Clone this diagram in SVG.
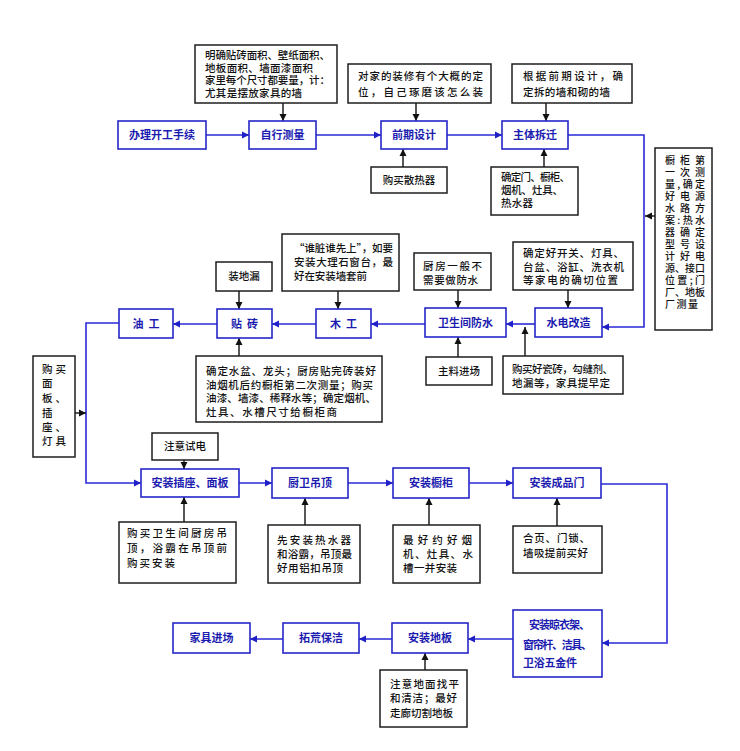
<svg xmlns="http://www.w3.org/2000/svg" width="740" height="751" viewBox="0 0 740 751">
  <style>
    .box { fill: #ffffff; stroke: #2626c8; stroke-width: 1.6; }
    .note { fill: #ffffff; stroke: #1e1e1e; stroke-width: 1.5; }
    .lbl { font-family: "Noto Sans CJK SC", "Noto Sans", sans-serif; font-size: 11px; font-weight: bold; fill: #1c1cb0; text-anchor: middle; }
    .txt { font-family: "Noto Sans CJK SC", "Noto Sans", sans-serif; font-size: 10.5px; font-weight: 500; fill: #111111; }
    .sm { font-size: 10px; }
    .mid { text-anchor: middle; }
    .flow { fill: none; stroke: #2a2ad6; stroke-width: 1.6; }
    .feed { fill: none; stroke: #111111; stroke-width: 1.4; }
  </style>
  <defs>
    <marker id="ab" markerWidth="8" markerHeight="8" refX="7" refY="4" orient="auto" markerUnits="userSpaceOnUse">
      <path d="M0,0.5 L7,4 L0,7.5 Z" fill="#2020c8"/>
    </marker>
    <marker id="ak" markerWidth="8" markerHeight="8" refX="7" refY="4" orient="auto" markerUnits="userSpaceOnUse">
      <path d="M0,0.5 L7,4 L0,7.5 Z" fill="#111111"/>
    </marker>
  </defs>
  <rect width="740" height="751" fill="#ffffff"/>

  <!-- connectors -->
  <g id="connectors">
    <!-- main flow, row 1 -->
    <path class="flow" d="M206,135 H249" marker-end="url(#ab)"/>
    <path class="flow" d="M316,135 H381" marker-end="url(#ab)"/>
    <path class="flow" d="M447,135 H502" marker-end="url(#ab)"/>
    <path class="flow" d="M568,135 H644 V327 H602" marker-end="url(#ab)"/>
    <!-- row 2 -->
    <path class="flow" d="M535,324 H506" marker-end="url(#ab)"/>
    <path class="flow" d="M425,324 H371" marker-end="url(#ab)"/>
    <path class="flow" d="M316,324 H272" marker-end="url(#ab)"/>
    <path class="flow" d="M217,324 H173" marker-end="url(#ab)"/>
    <path class="flow" d="M119,323 H86 V483 H141" marker-end="url(#ab)"/>
    <!-- row 3 -->
    <path class="flow" d="M239,483 H272" marker-end="url(#ab)"/>
    <path class="flow" d="M348,483 H393" marker-end="url(#ab)"/>
    <path class="flow" d="M469,483 H513" marker-end="url(#ab)"/>
    <path class="flow" d="M601,484 H667 V643 H602" marker-end="url(#ab)"/>
    <!-- row 4 -->
    <path class="flow" d="M513,639 H468" marker-end="url(#ab)"/>
    <path class="flow" d="M392,639 H359" marker-end="url(#ab)"/>
    <path class="flow" d="M283,639 H250" marker-end="url(#ab)"/>

    <!-- side notes feeding steps -->
    <path class="feed" d="M283,103 V121" marker-end="url(#ak)"/>
    <path class="feed" d="M416,103 V121" marker-end="url(#ak)"/>
    <path class="feed" d="M546,103 V121" marker-end="url(#ak)"/>
    <path class="feed" d="M403,167 V149" marker-end="url(#ak)"/>
    <path class="feed" d="M544,167 V149" marker-end="url(#ak)"/>
    <path class="feed" d="M655,216 H645" marker-end="url(#ak)"/>
    <path class="feed" d="M239,291 V309" marker-end="url(#ak)"/>
    <path class="feed" d="M239,356 V338" marker-end="url(#ak)"/>
    <path class="feed" d="M338,291 V309" marker-end="url(#ak)"/>
    <path class="feed" d="M458,290 V308" marker-end="url(#ak)"/>
    <path class="feed" d="M458,357 V337" marker-end="url(#ak)"/>
    <path class="feed" d="M568,290 V308" marker-end="url(#ak)"/>
    <path class="feed" d="M525,356 V327" marker-end="url(#ak)"/>
    <path class="feed" d="M75,413 H86" marker-end="url(#ak)"/>
    <path class="feed" d="M184,460 V469" marker-end="url(#ak)"/>
    <path class="feed" d="M184,522 V497" marker-end="url(#ak)"/>
    <path class="feed" d="M305,525 V498" marker-end="url(#ak)"/>
    <path class="feed" d="M429,525 V498" marker-end="url(#ak)"/>
    <path class="feed" d="M557,526 V498" marker-end="url(#ak)"/>
    <path class="feed" d="M425,670 V653" marker-end="url(#ak)"/>
  </g>

  <!-- row 1 steps -->
  <g id="n-permit">
    <rect class="box" x="118" y="121" width="88" height="28"/>
    <text class="lbl" x="162" y="139" textLength="66" lengthAdjust="spacing">办理开工手续</text>
  </g>
  <g id="n-measure">
    <rect class="box" x="249" y="121" width="67" height="28"/>
    <text class="lbl" x="282.5" y="139">自行测量</text>
  </g>
  <g id="n-design">
    <rect class="box" x="381" y="121" width="66" height="28"/>
    <text class="lbl" x="414" y="139">前期设计</text>
  </g>
  <g id="n-demolish">
    <rect class="box" x="502" y="121" width="66" height="28"/>
    <text class="lbl" x="535" y="139">主体拆迁</text>
  </g>

  <!-- row 1 notes -->
  <g id="t-measure">
    <rect class="note" x="195" y="45" width="142" height="58"/>
    <text class="txt" x="205" y="59" textLength="125" lengthAdjust="spacing">明确贴砖面积、壁纸面积、</text>
    <text class="txt" x="205" y="72" textLength="108" lengthAdjust="spacing">地板面积、墙面漆面积</text>
    <text class="txt" x="205" y="84" textLength="125" lengthAdjust="spacing">家里每个尺寸都要量，计：</text>
    <text class="txt" x="205" y="97" textLength="97" lengthAdjust="spacing">尤其是摆放家具的墙</text>
  </g>
  <g id="t-design">
    <rect class="note" x="348" y="64" width="143" height="39"/>
    <text class="txt" x="358" y="80" textLength="125" lengthAdjust="spacing">对家的装修有个大概的定</text>
    <text class="txt" x="358" y="96" textLength="125" lengthAdjust="spacing">位，自己琢磨该怎么装</text>
  </g>
  <g id="t-radiator">
    <rect class="note" x="371" y="167" width="76" height="26"/>
    <text class="txt mid" x="409" y="184">购买散热器</text>
  </g>
  <g id="t-demolish">
    <rect class="note" x="512" y="64" width="120" height="39"/>
    <text class="txt" x="523" y="80" textLength="100" lengthAdjust="spacing">根据前期设计，确</text>
    <text class="txt" x="523" y="96" textLength="87" lengthAdjust="spacing">定拆的墙和砌的墙</text>
  </g>
  <g id="t-doors">
    <rect class="note" x="491" y="167" width="87" height="48"/>
    <text class="txt" x="501" y="181" textLength="69" lengthAdjust="spacing">确定门、橱柜、</text>
    <text class="txt" x="501" y="194" textLength="62" lengthAdjust="spacing">烟机、灶具、</text>
    <text class="txt" x="501" y="207" textLength="32" lengthAdjust="spacing">热水器</text>
  </g>
  <g id="t-cabinet-measure">
    <rect class="note" x="655" y="148" width="57" height="182"/>
    <text class="txt sm" x="665" y="164" textLength="40" lengthAdjust="spacing">橱柜第</text>
    <text class="txt sm" x="665" y="176" textLength="40" lengthAdjust="spacing">一次测</text>
    <text class="txt sm" x="665" y="188" textLength="40" lengthAdjust="spacing">量,确定</text>
    <text class="txt sm" x="665" y="200" textLength="40" lengthAdjust="spacing">好电源</text>
    <text class="txt sm" x="665" y="212" textLength="40" lengthAdjust="spacing">水路方</text>
    <text class="txt sm" x="665" y="224" textLength="40" lengthAdjust="spacing">案:热水</text>
    <text class="txt sm" x="665" y="236" textLength="40" lengthAdjust="spacing">器确定</text>
    <text class="txt sm" x="665" y="248" textLength="40" lengthAdjust="spacing">型号设</text>
    <text class="txt sm" x="665" y="260" textLength="40" lengthAdjust="spacing">计好电</text>
    <text class="txt sm" x="665" y="272" textLength="40" lengthAdjust="spacing">源、接口</text>
    <text class="txt sm" x="665" y="284" textLength="40" lengthAdjust="spacing">位置;门</text>
    <text class="txt sm" x="665" y="296" textLength="40" lengthAdjust="spacing">厂、地板</text>
    <text class="txt sm" x="665" y="308" textLength="33" lengthAdjust="spacing">厂测量</text>
  </g>

  <!-- row 2 steps -->
  <g id="n-utilities">
    <rect class="box" x="535" y="308" width="67" height="29"/>
    <text class="lbl" x="568.5" y="327">水电改造</text>
  </g>
  <g id="n-waterproof">
    <rect class="box" x="425" y="308" width="81" height="29"/>
    <text class="lbl" x="465.5" y="327">卫生间防水</text>
  </g>
  <g id="n-carpentry">
    <rect class="box" x="316" y="309" width="55" height="29"/>
    <text class="lbl" x="343.5" y="328" xml:space="preserve">木  工</text>
  </g>
  <g id="n-tiling">
    <rect class="box" x="217" y="309" width="55" height="29"/>
    <text class="lbl" x="244.5" y="328" xml:space="preserve">贴  砖</text>
  </g>
  <g id="n-painting">
    <rect class="box" x="119" y="309" width="54" height="29"/>
    <text class="lbl" x="146" y="328" xml:space="preserve">油  工</text>
  </g>

  <!-- row 2 notes -->
  <g id="t-floor-drain">
    <rect class="note" x="216" y="262" width="56" height="29"/>
    <text class="txt mid" x="244" y="280">装地漏</text>
  </g>
  <g id="t-carpentry">
    <rect class="note" x="282" y="234" width="117" height="57"/>
    <text class="txt" x="294" y="252" textLength="99" lengthAdjust="spacing">“谁脏谁先上”，如要</text>
    <text class="txt" x="294" y="266" textLength="99" lengthAdjust="spacing">安装大理石窗台，最</text>
    <text class="txt" x="294" y="280" textLength="73" lengthAdjust="spacing">好在安装墙套前</text>
  </g>
  <g id="t-kitchen">
    <rect class="note" x="414" y="253" width="77" height="37"/>
    <text class="txt" x="423" y="270" textLength="59" lengthAdjust="spacing">厨房一般不</text>
    <text class="txt" x="423" y="284" textLength="55" lengthAdjust="spacing">需要做防水</text>
  </g>
  <g id="t-fixtures">
    <rect class="note" x="513" y="242" width="120" height="48"/>
    <text class="txt" x="523" y="257" textLength="101" lengthAdjust="spacing">确定好开关、灯具、</text>
    <text class="txt" x="523" y="271" textLength="101" lengthAdjust="spacing">台盆、浴缸、洗衣机</text>
    <text class="txt" x="523" y="284" textLength="95" lengthAdjust="spacing">等家电的确切位置</text>
  </g>
  <g id="t-materials">
    <rect class="note" x="426" y="357" width="66" height="28"/>
    <text class="txt mid" x="459" y="375">主料进场</text>
  </g>
  <g id="t-tiles">
    <rect class="note" x="503" y="356" width="120" height="38"/>
    <text class="txt" x="512" y="373" textLength="101" lengthAdjust="spacing">购买好瓷砖，勾缝剂、</text>
    <text class="txt" x="512" y="387" textLength="98" lengthAdjust="spacing">地漏等，家具提早定</text>
  </g>
  <g id="t-tiling">
    <rect class="note" x="196" y="356" width="186" height="66"/>
    <text class="txt" x="206" y="375" textLength="170" lengthAdjust="spacing">确定水盆、龙头；厨房贴完砖装好</text>
    <text class="txt" x="206" y="389" textLength="167" lengthAdjust="spacing">油烟机后约橱柜第二次测量；购买</text>
    <text class="txt" x="206" y="402" textLength="170" lengthAdjust="spacing">油漆、墙漆、稀释水等；确定烟机、</text>
    <text class="txt" x="206" y="416" textLength="131" lengthAdjust="spacing">灶具、水槽尺寸给橱柜商</text>
  </g>
  <g id="t-panels">
    <rect class="note" x="33" y="356" width="42" height="101"/>
    <text class="txt" x="42" y="373" textLength="24" lengthAdjust="spacing">购买</text>
    <text class="txt" x="42" y="387">面</text>
    <text class="txt" x="42" y="402" textLength="24" lengthAdjust="spacing">板、</text>
    <text class="txt" x="42" y="417">插</text>
    <text class="txt" x="42" y="431" textLength="24" lengthAdjust="spacing">座、</text>
    <text class="txt" x="42" y="445" textLength="24" lengthAdjust="spacing">灯具</text>
  </g>

  <!-- row 3 steps -->
  <g id="n-sockets">
    <rect class="box" x="141" y="469" width="98" height="28"/>
    <text class="lbl" x="190" y="487">安装插座、面板</text>
  </g>
  <g id="n-ceiling">
    <rect class="box" x="272" y="468" width="76" height="30"/>
    <text class="lbl" x="310" y="487">厨卫吊顶</text>
  </g>
  <g id="n-cabinets">
    <rect class="box" x="393" y="468" width="76" height="30"/>
    <text class="lbl" x="431" y="487">安装橱柜</text>
  </g>
  <g id="n-doors">
    <rect class="box" x="513" y="468" width="88" height="30"/>
    <text class="lbl" x="557" y="487">安装成品门</text>
  </g>

  <!-- row 3 notes -->
  <g id="t-power-test">
    <rect class="note" x="152" y="433" width="66" height="27"/>
    <text class="txt mid" x="185" y="450">注意试电</text>
  </g>
  <g id="t-ceiling-buy">
    <rect class="note" x="119" y="522" width="117" height="61"/>
    <text class="txt" x="127" y="537" textLength="100" lengthAdjust="spacing">购买卫生间厨房吊</text>
    <text class="txt" x="127" y="552" textLength="100" lengthAdjust="spacing">顶，浴霸在吊顶前</text>
    <text class="txt" x="127" y="567" textLength="48" lengthAdjust="spacing">购买安装</text>
  </g>
  <g id="t-heater">
    <rect class="note" x="268" y="525" width="92" height="58"/>
    <text class="txt" x="277" y="544" textLength="74" lengthAdjust="spacing">先安装热水器</text>
    <text class="txt" x="277" y="558" textLength="75" lengthAdjust="spacing">和浴霸，吊顶最</text>
    <text class="txt" x="277" y="572" textLength="66" lengthAdjust="spacing">好用铝扣吊顶</text>
  </g>
  <g id="t-hood">
    <rect class="note" x="393" y="525" width="87" height="58"/>
    <text class="txt" x="403" y="544" textLength="69" lengthAdjust="spacing">最好约好烟</text>
    <text class="txt" x="403" y="558" textLength="70" lengthAdjust="spacing">机、灶具、水</text>
    <text class="txt" x="403" y="572" textLength="54" lengthAdjust="spacing">槽一并安装</text>
  </g>
  <g id="t-hardware">
    <rect class="note" x="513" y="526" width="89" height="47"/>
    <text class="txt" x="523" y="542" textLength="67" lengthAdjust="spacing">合页、门锁、</text>
    <text class="txt" x="523" y="557" textLength="65" lengthAdjust="spacing">墙吸提前买好</text>
  </g>

  <!-- row 4 steps -->
  <g id="n-fittings">
    <rect class="box" x="513" y="610" width="89" height="67"/>
    <text class="lbl" x="529" y="629" text-anchor="start" style="text-anchor:start" textLength="61" lengthAdjust="spacing">安装晾衣架、</text>
    <text class="lbl" x="523" y="649" style="text-anchor:start" textLength="69" lengthAdjust="spacing">窗帘杆、洁具、</text>
    <text class="lbl" x="523" y="667" style="text-anchor:start" textLength="54" lengthAdjust="spacing">卫浴五金件</text>
  </g>
  <g id="n-flooring">
    <rect class="box" x="392" y="623" width="76" height="30"/>
    <text class="lbl" x="430" y="642">安装地板</text>
  </g>
  <g id="n-cleaning">
    <rect class="box" x="283" y="623" width="76" height="30"/>
    <text class="lbl" x="321" y="642">拓荒保洁</text>
  </g>
  <g id="n-furniture">
    <rect class="box" x="173" y="623" width="77" height="30"/>
    <text class="lbl" x="211.5" y="642">家具进场</text>
  </g>

  <!-- row 4 notes -->
  <g id="t-flooring">
    <rect class="note" x="380" y="670" width="87" height="57"/>
    <text class="txt" x="390" y="688" textLength="69" lengthAdjust="spacing">注意地面找平</text>
    <text class="txt" x="390" y="702" textLength="67" lengthAdjust="spacing">和清洁；最好</text>
    <text class="txt" x="390" y="717" textLength="63" lengthAdjust="spacing">走廊切割地板</text>
  </g>
</svg>
